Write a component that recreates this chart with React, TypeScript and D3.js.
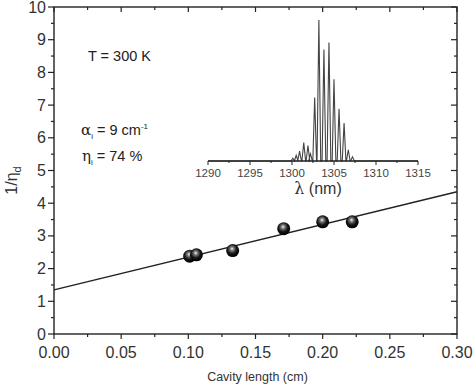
import React, { useEffect, useRef } from 'react';
import * as d3 from 'd3';

// main data: cavity length (cm) vs 1/eta_d
const cavityLength = [0.101, 0.106, 0.133, 0.171, 0.2, 0.222];
const invEta = [2.38, 2.42, 2.55, 3.22, 3.43, 3.43];
const fitX = [0, 0.3];
const fitY = [1.35, 4.35];
const xTicks = [0, 0.05, 0.1, 0.15, 0.2, 0.25, 0.3];
const yTicks = [0, 1, 2, 3, 4, 5, 6, 7, 8, 9, 10];

// inset spectrum: mode wavelengths (nm) and normalized intensity
const modeLambda = [1300.1, 1300.5, 1300.9, 1301.4, 1301.9, 1302.2, 1302.7, 1303.2, 1303.8, 1304.4, 1305.0, 1305.6, 1306.2, 1306.7, 1307.2];
const modeInt = [0.02, 0.04, 0.07, 0.13, 0.11, 0.05, 0.45, 1.0, 0.79, 0.84, 0.58, 0.37, 0.27, 0.08, 0.03];
const lambdaTicks = [1290, 1295, 1300, 1305, 1310, 1315];

const W = 474;
const H = 387;

const App: React.FC = () => {
  const ref = useRef<SVGSVGElement>(null);

  useEffect(() => {
    drawChart();
  }, []);

  const drawChart = () => {
    const svg = d3.select(ref.current);
    svg.selectAll('*').remove();

    const left = 54, right = 457, top = 7, bottom = 334;
    const x = d3.scaleLinear().domain([0, 0.3]).range([left, right]);
    const y = d3.scaleLinear().domain([0, 10]).range([bottom, top]);
    const ink = '#222';
    const font = 'Liberation Sans, Arial, sans-serif';

    const defs = svg.append('defs');
    const grad = defs.append('radialGradient').attr('id', 'ball').attr('cx', '45%').attr('cy', '40%').attr('r', '60%').attr('fx', '45%').attr('fy', '35%');
    grad.append('stop').attr('offset', '0%').attr('stop-color', '#f4f4f4');
    grad.append('stop').attr('offset', '25%').attr('stop-color', '#777');
    grad.append('stop').attr('offset', '60%').attr('stop-color', '#151515');
    grad.append('stop').attr('offset', '100%').attr('stop-color', '#000');

    // frame
    svg.append('rect').attr('x', left).attr('y', top).attr('width', right - left).attr('height', bottom - top)
      .attr('fill', 'none').attr('stroke', ink).attr('stroke-width', 1.4);

    // bottom / top axis ticks
    const minorX = d3.range(0, 0.3001, 0.025);
    minorX.forEach((v, i) => {
      const major = i % 2 === 0;
      svg.append('line').attr('x1', x(v)).attr('x2', x(v)).attr('y1', bottom).attr('y2', bottom + (major ? 5 : 3))
        .attr('stroke', ink).attr('stroke-width', 1.2);
      svg.append('line').attr('x1', x(v)).attr('x2', x(v)).attr('y1', top).attr('y2', top + (major ? 5 : 3))
        .attr('stroke', ink).attr('stroke-width', 1.2);
    });
    svg.selectAll('.xlab').data(xTicks).enter().append('text')
      .attr('x', d => x(d)).attr('y', bottom + 24).attr('text-anchor', 'middle')
      .attr('font-family', font).attr('font-size', 16).attr('fill', '#333')
      .text(d => d.toFixed(2));

    // left / right axis ticks
    const minorY = d3.range(0, 10.001, 0.5);
    minorY.forEach((v, i) => {
      const major = i % 2 === 0;
      svg.append('line').attr('x1', left).attr('x2', left - (major ? 6 : 3)).attr('y1', y(v)).attr('y2', y(v))
        .attr('stroke', ink).attr('stroke-width', 1.2);
      svg.append('line').attr('x1', right).attr('x2', right - (major ? 6 : 3)).attr('y1', y(v)).attr('y2', y(v))
        .attr('stroke', ink).attr('stroke-width', 1.2);
    });
    svg.selectAll('.ylab').data(yTicks).enter().append('text')
      .attr('x', left - 8).attr('y', d => y(d) + 5.5).attr('text-anchor', 'end')
      .attr('font-family', font).attr('font-size', 16).attr('fill', '#333')
      .text(d => d);

    // axis titles
    svg.append('text').attr('x', (left + right) / 2 + 2).attr('y', 381).attr('text-anchor', 'middle')
      .attr('font-family', font).attr('font-size', 12.5).attr('fill', '#333').text('Cavity length (cm)');
    const yt = svg.append('text').attr('transform', `translate(17, ${(top + bottom) / 2 + 10}) rotate(-90)`)
      .attr('text-anchor', 'middle').attr('font-family', font).attr('font-size', 16).attr('fill', '#333');
    yt.append('tspan').text('1/η');
    yt.append('tspan').attr('dy', 4).attr('font-size', 11).text('d');

    // fit line
    const line = d3.line<number>().x((d, i) => x(fitX[i])).y((d, i) => y(fitY[i]));
    svg.append('path').attr('d', line(fitY)).attr('fill', 'none').attr('stroke', ink).attr('stroke-width', 1.5);

    // data points
    svg.selectAll('.pt').data(cavityLength).enter().append('circle')
      .attr('cx', d => x(d)).attr('cy', (d, i) => y(invEta[i])).attr('r', 6.5)
      .attr('fill', 'url(#ball)');

    // annotations
    const ann = (tx: number, ty: number) => svg.append('text').attr('x', tx).attr('y', ty)
      .attr('font-family', font).attr('font-size', 14.5).attr('fill', '#222');
    ann(88, 61).text('T = 300 K');
    const a = ann(81, 135);
    a.append('tspan').attr('font-family', 'DejaVu Serif, serif').attr('font-size', 15).text('α');
    a.append('tspan').attr('dy', 4).attr('font-size', 8).text('i');
    a.append('tspan').attr('dy', -4).text(' = 9 cm');
    a.append('tspan').attr('dy', -6).attr('font-size', 8).text('-1');
    const e = ann(82, 161);
    e.append('tspan').attr('font-family', 'DejaVu Serif, serif').attr('font-size', 15).text('η');
    e.append('tspan').attr('dy', 4).attr('font-size', 8).text('i');
    e.append('tspan').attr('dy', -4).text(' = 74 %');

    // inset spectrum
    const lx = d3.scaleLinear().domain([1290, 1315]).range([208, 418]);
    const ly = d3.scaleLinear().domain([0, 1]).range([161, 20]);
    const spec: [number, number][] = [[1290, 0]];
    modeLambda.forEach((l, i) => {
      spec.push([l - 0.22, 0], [l, modeInt[i]], [l + 0.22, 0]);
    });
    spec.push([1315, 0]);
    svg.append('path')
      .attr('d', d3.line<[number, number]>().x(d => lx(d[0])).y(d => ly(d[1]))(spec))
      .attr('fill', 'none').attr('stroke', '#444').attr('stroke-width', 1.1);
    svg.append('line').attr('x1', lx(1290)).attr('x2', lx(1315)).attr('y1', ly(0)).attr('y2', ly(0))
      .attr('stroke', ink).attr('stroke-width', 1.3);
    d3.range(1290, 1315.01, 2.5).forEach((v, i) => {
      svg.append('line').attr('x1', lx(v)).attr('x2', lx(v)).attr('y1', ly(0)).attr('y2', ly(0) + (i % 2 === 0 ? 4 : 2))
        .attr('stroke', ink).attr('stroke-width', 1);
    });
    svg.selectAll('.llab').data(lambdaTicks).enter().append('text')
      .attr('x', d => lx(d)).attr('y', 177).attr('text-anchor', 'middle')
      .attr('font-family', font).attr('font-size', 11.5).attr('fill', '#444')
      .text(d => d);
    const lt = svg.append('text').attr('x', 318).attr('y', 194).attr('text-anchor', 'middle')
      .attr('font-family', font).attr('font-size', 16).attr('fill', '#333');
    lt.append('tspan').attr('font-family', 'DejaVu Serif, serif').text('λ');
    lt.append('tspan').text(' (nm)');
  };

  return (
    <svg ref={ref} width={W} height={H} style={{ position: 'absolute', left: 0, top: 0, background: '#fff' }}></svg>
  );
};

export default App;
